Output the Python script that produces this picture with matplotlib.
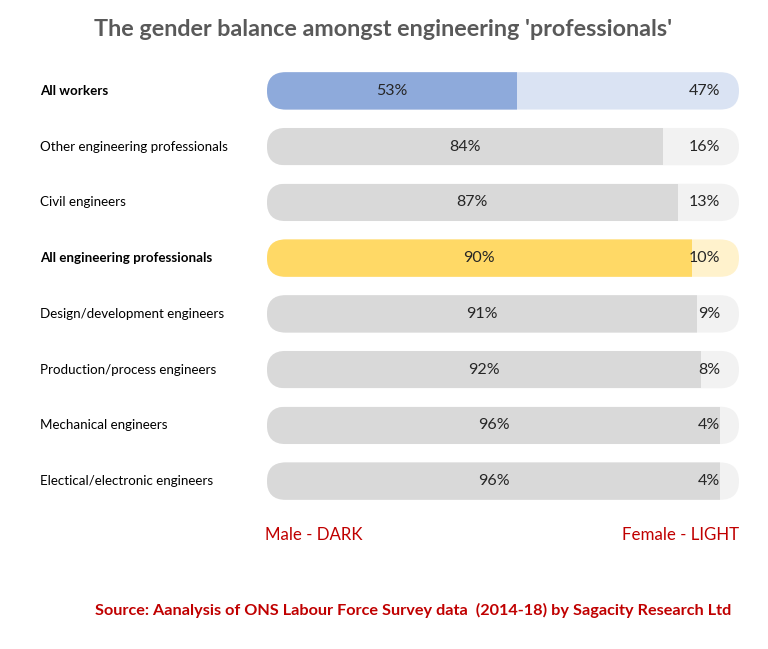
import matplotlib.pyplot as plt
from matplotlib.patches import FancyBboxPatch

plt.rcParams['font.family'] = ['Lato', 'DejaVu Sans']

categories = ['All workers', 'Other engineering professionals', 'Civil engineers',
              'All engineering professionals', 'Design/development engineers',
              'Production/process engineers', 'Mechanical engineers',
              'Electical/electronic engineers']
male = [53, 84, 87, 90, 91, 92, 96, 96]
female = [47, 16, 13, 10, 9, 8, 4, 4]
bold_rows = ['All workers', 'All engineering professionals']

# dark / light colour per row
dark_cols = ['#8EAADB', '#D9D9D9', '#D9D9D9', '#FFD966', '#D9D9D9', '#D9D9D9', '#D9D9D9', '#D9D9D9']
light_cols = ['#DAE3F3', '#F2F2F2', '#F2F2F2', '#FFF2CC', '#F2F2F2', '#F2F2F2', '#F2F2F2', '#F2F2F2']

W, H = 768, 649
fig = plt.figure(figsize=(W / 100, H / 100), dpi=100)
ax = fig.add_axes([267 / W, 1 - 509 / H, 472 / W, 446 / H])
ax.set_xlim(0, 100)
ax.set_ylim(len(categories) - 0.5, -0.5)
ax.axis('off')

bar_h = 0.67
# convert the half-height into x units so the ends are true semicircles
px_per_x = 472 / 100
px_per_y = 446 / len(categories)
ry = bar_h / 2
rx = ry * px_per_y / px_per_x

for i, cat in enumerate(categories):
    total = male[i] + female[i]
    bg = FancyBboxPatch((0, i - bar_h / 2), total, bar_h,
                        boxstyle=f"round,pad=0,rounding_size={rx}",
                        mutation_aspect=ry / rx, fc=light_cols[i], ec='none')
    ax.add_patch(bg)
    bars = ax.barh(i, male[i], height=bar_h, color=dark_cols[i], edgecolor='none')
    for b in bars:
        b.set_clip_path(bg)
    ax.text(male[i] / 2, i, f'{male[i]}%', ha='center', va='center',
            fontsize=11.5, color='#262626')
    ax.text(96, i, f'{female[i]}%', ha='right', va='center',
            fontsize=11.5, color='#262626')
    fig.text(40 / W, 1 - (63 + (i + 0.5) * px_per_y) / H, cat, ha='left', va='center',
             fontsize=9.6, color='black',
             fontweight='bold' if cat in bold_rows else 'normal')

fig.text(383 / W, 1 - 30 / H, "The gender balance amongst engineering 'professionals'",
         ha='center', va='center', fontsize=16.8, fontweight='bold', color='#595959')
fig.text(265 / W, 1 - 535 / H, 'Male - DARK', ha='left', va='center',
         fontsize=12.2, color='#C00000')
fig.text(739 / W, 1 - 535 / H, 'Female - LIGHT', ha='right', va='center',
         fontsize=12.2, color='#C00000')
fig.text(413 / W, 1 - 610 / H,
         'Source: Aanalysis of ONS Labour Force Survey data  (2014-18) by Sagacity Research Ltd',
         ha='center', va='center', fontsize=11.7, fontweight='bold', color='#C00000')

fig.savefig('out.png', dpi=100)
plt.close(fig)
